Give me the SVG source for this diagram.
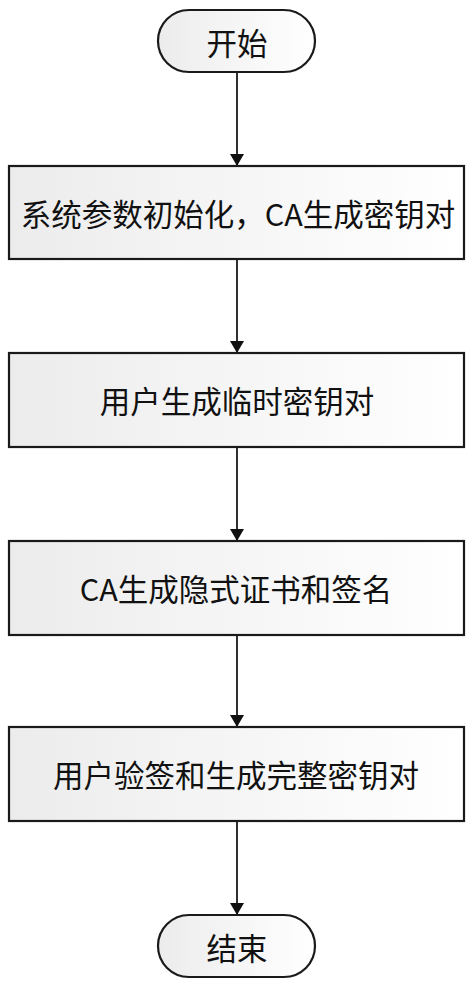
<svg xmlns="http://www.w3.org/2000/svg" width="474" height="989" viewBox="0 0 474 989">
<defs>
<linearGradient id="g" x1="0" y1="0" x2="1" y2="0">
<stop offset="0" stop-color="#ececec"/>
<stop offset="1" stop-color="#ffffff"/>
</linearGradient>
<marker id="ah" viewBox="0 0 12 14" refX="12" refY="7" markerWidth="12" markerHeight="14" markerUnits="userSpaceOnUse" orient="auto">
<path d="M0,0 L12,7 L0,14 Z" fill="#111"/>
</marker>
<style>
.n{fill:url(#g);stroke:#1a1a1a;stroke-width:2.2}
.t{font-family:"Noto Sans CJK SC","Noto Sans",sans-serif;font-size:30.5px;fill:#111;text-anchor:middle;dominant-baseline:central}
.c{stroke:#1a1a1a;stroke-width:1.8;fill:none;marker-end:url(#ah)}
</style>
</defs>
<rect width="474" height="989" fill="#fff"/>
<g id="connectors">
<line class="c" x1="237" y1="72" x2="237" y2="166"/>
<line class="c" x1="237" y1="259" x2="237" y2="353"/>
<line class="c" x1="237" y1="447" x2="237" y2="541"/>
<line class="c" x1="237" y1="635" x2="237" y2="727"/>
<line class="c" x1="237" y1="821" x2="237" y2="915"/>
</g>
<g id="start">
<rect class="n" x="158" y="10" width="157" height="62" rx="31"/>
<text class="t" x="237" y="42">开始</text>
</g>
<g id="step1">
<rect class="n" x="9" y="166" width="455" height="93"/>
<text class="t" x="238" y="213">系统参数初始化，CA生成密钥对</text>
</g>
<g id="step2">
<rect class="n" x="9" y="353" width="455" height="94"/>
<text class="t" x="237" y="400">用户生成临时密钥对</text>
</g>
<g id="step3">
<rect class="n" x="9" y="541" width="455" height="94"/>
<text class="t" x="236" y="588">CA生成隐式证书和签名</text>
</g>
<g id="step4">
<rect class="n" x="9" y="727" width="455" height="94"/>
<text class="t" x="236" y="774">用户验签和生成完整密钥对</text>
</g>
<g id="end">
<rect class="n" x="158" y="915" width="157" height="62" rx="31"/>
<text class="t" x="237" y="947">结束</text>
</g>
</svg>
